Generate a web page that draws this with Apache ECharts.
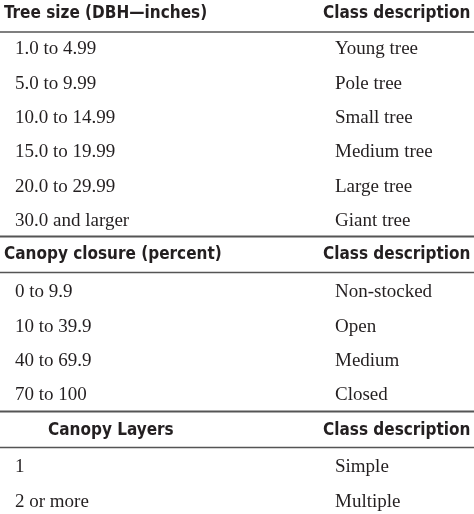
<!DOCTYPE html>
<html><head><meta charset="utf-8">
<script src="https://cdn.jsdelivr.net/npm/echarts@6/dist/echarts.min.js"></script>
<style>html,body{margin:0;padding:0;background:#fff}#c{width:474px;height:514px}</style>
</head><body><div id="c"></div>
<script>
const headers1 = ["Tree size (DBH\u2014inches)", "Class description"];
const sizeRanges = ["1.0 to 4.99","5.0 to 9.99","10.0 to 14.99","15.0 to 19.99","20.0 to 29.99","30.0 and larger"];
const sizeClasses = ["Young tree","Pole tree","Small tree","Medium tree","Large tree","Giant tree"];
const headers2 = ["Canopy closure (percent)", "Class description"];
const closureRanges = ["0 to 9.9","10 to 39.9","40 to 69.9","70 to 100"];
const closureClasses = ["Non-stocked","Open","Medium","Closed"];
const headers3 = ["Canopy Layers", "Class description"];
const layerValues = ["1","2 or more"];
const layerClasses = ["Simple","Multiple"];

const chart = echarts.init(document.getElementById('c'));
const els = [];
const hFont = 'bold 17px "DejaVu Sans Condensed", "DejaVu Sans", sans-serif';
const rFont = '19px "Liberation Serif", serif';
function txt(x, y, s, font){
  els.push({type:'text', x:x, y:y, style:{text:s, font:font, fill:'#231f20', textVerticalAlign:'middle'}});
}
function line(y, w){
  els.push({type:'line', shape:{x1:0,y1:y,x2:474,y2:y}, style:{stroke:'#555', lineWidth:w}});
}
function section(hdr, left, right, hy, hx, startY){
  txt(hx, hy, hdr[0], hFont);
  txt(323, hy, hdr[1], hFont);
  left.forEach((s,i)=>{ txt(15, startY + i*34.3, s, rFont); txt(335, startY + i*34.3, right[i], rFont); });
}
line(32, 1.5); line(236.5, 2); line(272.5, 1.5); line(411.5, 2); line(447.5, 1.5);
section(headers1, sizeRanges, sizeClasses, 14, 4, 49.5);
section(headers2, closureRanges, closureClasses, 255, 4, 292.5);
section(headers3, layerValues, layerClasses, 431, 48, 467.5);
chart.setOption({animation:false, graphic:{elements:els}});
</script></body></html>
